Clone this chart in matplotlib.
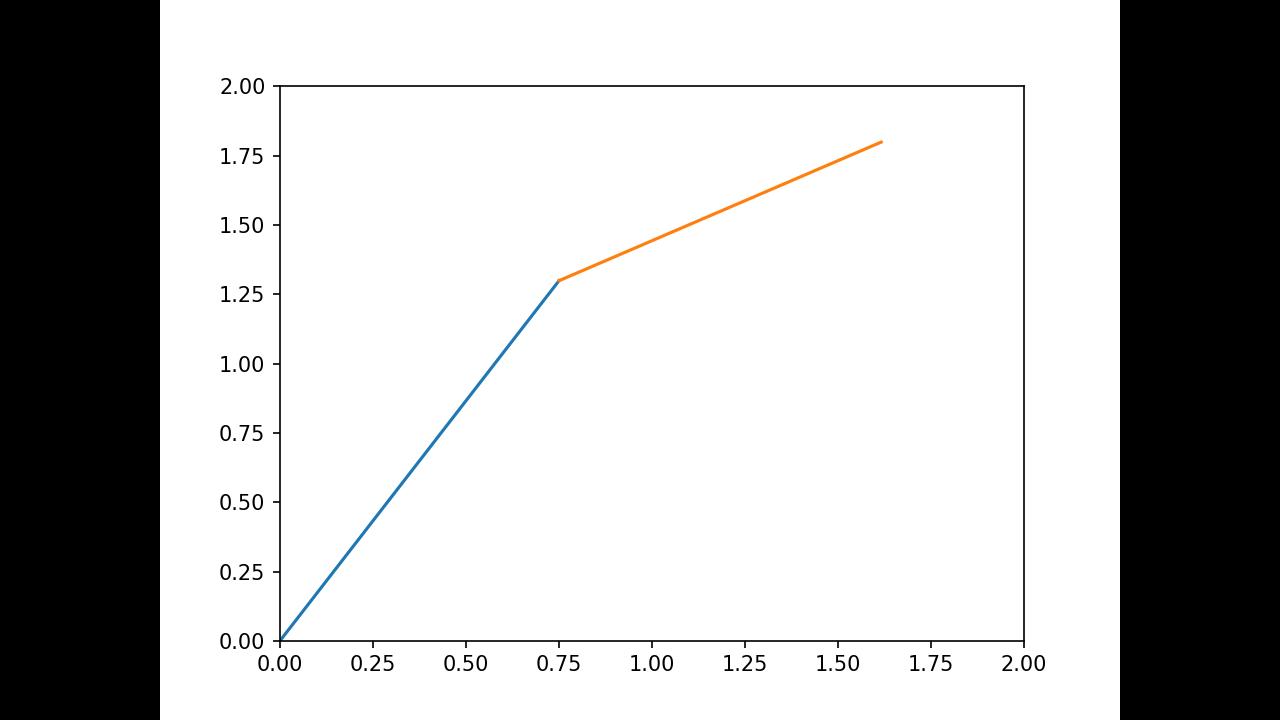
import matplotlib
matplotlib.use("Agg")
import matplotlib.pyplot as plt
from matplotlib.patches import Rectangle

# Data
seg1_x = [0.0, 0.75]
seg1_y = [0.0, 1.299]
seg2_x = [0.75, 1.616]
seg2_y = [1.299, 1.799]
xlim = (0, 2)
ylim = (0, 2)

fig = plt.figure(figsize=(1280 / 150, 720 / 150), dpi=150, facecolor="black")
# white canvas region in the middle (960x720)
fig.patches.append(Rectangle((160 / 1280, 0), 960 / 1280, 1, transform=fig.transFigure,
                             facecolor="white", edgecolor="none", zorder=-10))

ax = fig.add_axes([280 / 1280, 0.11, 744 / 1280, 0.77])
ax.set_zorder(5)
ax.plot(seg1_x, seg1_y, color="#1f77b4")
ax.plot(seg2_x, seg2_y, color="#ff7f0e")
ax.set_xlim(*xlim)
ax.set_ylim(*ylim)

fig.savefig("out.png", dpi=150, facecolor=fig.get_facecolor())
